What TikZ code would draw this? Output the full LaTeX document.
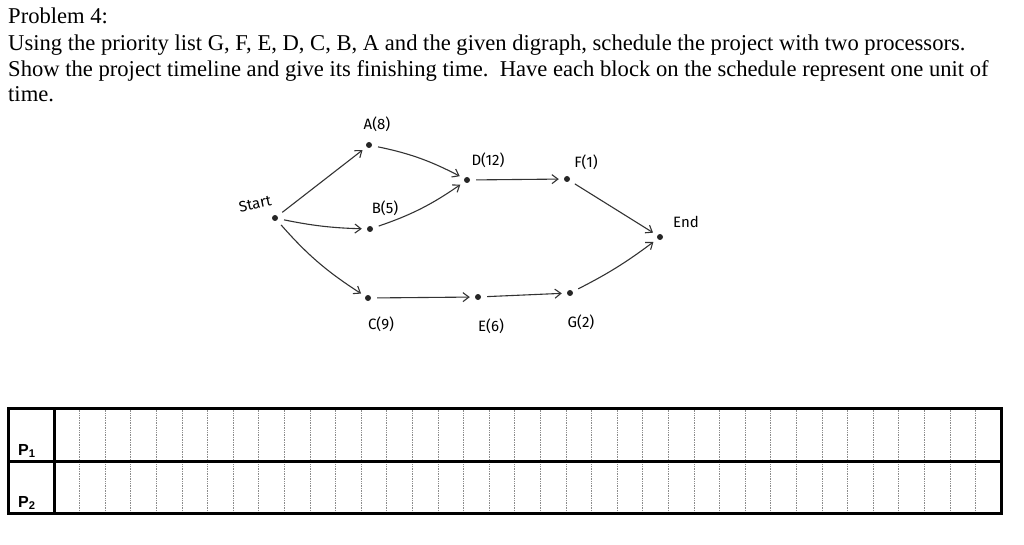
\documentclass[tikz,border=0pt]{standalone}
\usepackage{fontspec}
\setmainfont{Liberation Serif}
\newfontfamily\hand{Fira Sans}[Scale=1]
\setsansfont{Liberation Sans}
\usetikzlibrary{arrows.meta}
\begin{document}
\begin{tikzpicture}[x=1pt,y=-1pt,
  dot/.style={circle,fill=black!85,inner sep=0pt,minimum size=6pt},
  lbl/.style={font=\hand\fontsize{15}{15}\selectfont},
  arr/.style={-{Straight Barb[length=6pt,width=9pt]},line width=1.1pt,black!80,shorten >=5pt,shorten <=6pt},
  ttl/.style={anchor=base west,inner sep=0pt,font=\fontsize{22.6}{22.6}\selectfont}]
\useasboundingbox (0,0) rectangle (1024,545);
\node[ttl] (t1) at (8,24) {Problem 4:};
\node[ttl] (t2) at (8,51) {Using the priority list G, F, E, D, C, B, A and the given digraph, schedule the project with two processors.};
\node[ttl] (t3) at (8,77) {Show the project timeline and give its finishing time.\ \ Have each block on the schedule represent one unit of};
\node[ttl] (t4) at (8,102) {time.};
% graph
\node[dot] (S) at (275,218) {};
\node[dot] (A) at (369,145) {};
\node[dot] (B) at (370,229) {};
\node[dot] (D) at (467,180) {};
\node[dot] (F) at (567,179) {};
\node[dot] (En) at (660,237) {};
\node[dot] (C) at (368,298) {};
\node[dot] (E) at (478,297) {};
\node[dot] (G) at (570,293) {};
\node[lbl,rotate=12] (lS) at (255,204) {Start};
\node[lbl] (lA) at (377,124) {A(8)};
\node[lbl] (lB) at (385,208) {B(5)};
\node[lbl] (lD) at (488,160) {D(12)};
\node[lbl] (lF) at (586,162) {F(1)};
\node[lbl] (lE) at (686,222) {End};
\node[lbl] (lC) at (381,324) {C(9)};
\node[lbl] (lEE) at (491,326) {E(6)};
\node[lbl] (lG) at (581,322) {G(2)};
\draw[arr] (S) -- (A);
\draw[arr] (S) to[bend right=5] (B);
\draw[arr] (S) to[bend right=8] (C);
\draw[arr] (A) to[bend left=8] (D);
\draw[arr] (B) to[bend right=8] (D);
\draw[arr] (D) -- (F);
\draw[arr] (F) -- (En);
\draw[arr] (C) -- (E);
\draw[arr] (E) -- (G);
\draw[arr] (G) to[bend right=5] (En);
% table
\foreach \i in {1,...,36} {
  \draw[black!45,line width=0.7pt,densely dotted] ({54+\i*25.6},408) -- ({54+\i*25.6},513);
}
\draw[line width=3pt] (8,408) rectangle (1001,513);
\draw[line width=3pt] (8,461) -- (1001,461);
\draw[line width=3pt] (54,408) -- (54,513);
\node[anchor=base west,inner sep=0pt,font=\sffamily\bfseries\fontsize{16}{16}\selectfont] (p1) at (18,455) {P\textsubscript{1}};
\node[anchor=base west,inner sep=0pt,font=\sffamily\bfseries\fontsize{16}{16}\selectfont] (p2) at (18,507) {P\textsubscript{2}};
\end{tikzpicture}
\end{document}
